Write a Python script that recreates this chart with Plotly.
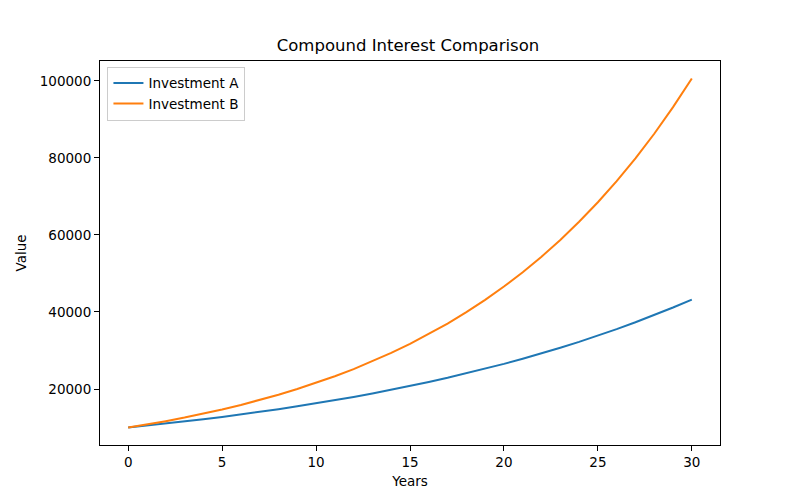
import plotly.graph_objects as go

# Values (year 0..30)
years = list(range(0, 31))
investment_a = [10000, 10500, 11025, 11576, 12155, 12763, 13401, 14071, 14775, 15513,
                16289, 17103, 17959, 18856, 19799, 20789, 21829, 22920, 24066, 25270,
                26533, 27860, 29253, 30715, 32251, 33864, 35557, 37335, 39201, 41161,
                43219]
investment_b = [10000, 10800, 11664, 12597, 13605, 14693, 15869, 17138, 18509, 19990,
                21589, 23316, 25182, 27196, 29372, 31722, 34259, 37000, 39960, 43157,
                46610, 50338, 54365, 58715, 63412, 68485, 73964, 79881, 86271, 93173,
                100627]
x_ticks = [0, 5, 10, 15, 20, 25, 30]
y_ticks = [20000, 40000, 60000, 80000, 100000]
y_labels = ['20000', '40000', '60000', '80000', '100000']

fig = go.Figure()
fig.add_trace(go.Scatter(x=years, y=investment_a, mode='lines', name='Investment A',
                         line=dict(color='#1f77b4', width=2)))
fig.add_trace(go.Scatter(x=years, y=investment_b, mode='lines', name='Investment B',
                         line=dict(color='#ff7f0e', width=2)))

axis_style = dict(showline=True, mirror=True, linecolor='black', linewidth=1,
                  ticks='outside', ticklen=5, tickcolor='black', showgrid=False,
                  zeroline=False, automargin=False,
                  tickfont=dict(size=13.5, color='black'))

fig.update_layout(
    width=800, height=500,
    margin=dict(l=92, r=88, t=53, b=63),
    paper_bgcolor='white', plot_bgcolor='white',
    font=dict(family='DejaVu Sans', color='black'),
    title=dict(text='Compound Interest Comparison', x=0.5, xanchor='center',
               y=0.926, yanchor='middle', font=dict(size=16.5, color='black')),
    showlegend=True,
    legend=dict(x=0.012, y=0.985, xanchor='left', yanchor='top',
                bordercolor='#cccccc', borderwidth=1, bgcolor='white',
                font=dict(size=13.5), tracegroupgap=0, itemwidth=30),
)
fig.update_xaxes(range=[-1.5, 31.5], tickvals=x_ticks,
                 title=dict(text='Years', font=dict(size=13.5), standoff=7), **axis_style)
fig.update_yaxes(range=[5469, 105158], tickvals=y_ticks, ticktext=y_labels,
                 title=dict(text='Value', font=dict(size=13.5), standoff=10), **axis_style)

fig.write_html("out.html")
